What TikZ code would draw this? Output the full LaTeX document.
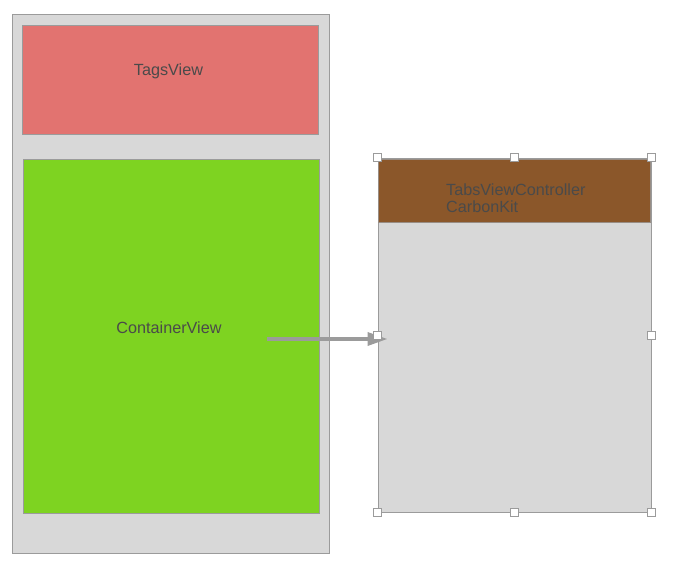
\documentclass[tikz,border=0pt]{standalone}
\usepackage{fontspec}
\setmainfont{Liberation Sans}
\usepackage{tikz}
\usetikzlibrary{arrows.meta,positioning,calc}
\definecolor{frame}{HTML}{9B9B9B}
\definecolor{panelgray}{HTML}{D8D8D8}
\definecolor{tagsred}{HTML}{E27370}
\definecolor{leafgreen}{HTML}{7ED321}
\definecolor{bark}{HTML}{8B572A}
\definecolor{ink}{HTML}{4A4A4A}
\tikzset{>=Triangle,view/.style={draw=frame,line width=1pt,inner sep=0pt},caption/.style={font=\fontsize{16.2}{17}\selectfont,text=ink},handle/.style={draw=frame,fill=white,line width=.8pt,minimum size=8pt,inner sep=0pt},segue/.style={->,frame,line width=3.5pt,arrows={-Triangle[length=20pt,width=13pt]}}}
\begin{document}
\begin{tikzpicture}[x=1pt,y=-1pt]
\useasboundingbox (0,0) rectangle (689,587);
\node[view,fill=panelgray,minimum width=317,minimum height=539] (scene) at (170.5,283.5) {};
\node[view,fill=tagsred,minimum width=296,minimum height=109,label={[caption,yshift=8.5pt,xshift=-1.5pt]center:TagsView}] (tags) at (170,79.5) {};
\node[view,fill=leafgreen,minimum width=296,minimum height=354,label={[caption,yshift=8pt,xshift=-2pt]center:ContainerView}] (container) at (171,336) {};
\node[view,fill=panelgray,minimum width=273,minimum height=354] (tabs) at (514.5,335) {};
\node[view,fill=bark,draw=frame!80!bark,line width=.6pt,minimum width=272,minimum height=63] (header) at (514,190.5) {};
\node[caption,align=left,anchor=west,inner sep=0pt] (headlab) at (446,198) {TabsViewController\\CarbonKit};
\coordinate (src) at (267,339);
\draw[segue] (src) -- ([xshift=10pt]src -| tabs.west);
\foreach \a [count=\i] in {north west,north,north east,west,east,south west,south,south east}
\node[handle] (h\i) at (tabs.\a) {};
\end{tikzpicture}
\end{document}
